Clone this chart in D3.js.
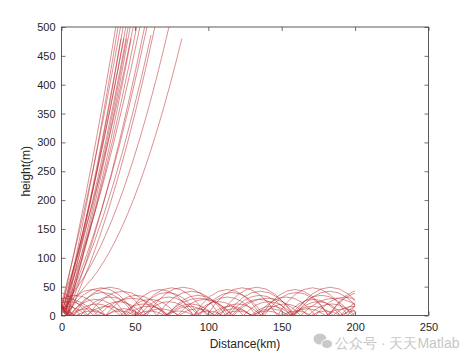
<!DOCTYPE html>
<html>
<head>
<meta charset="utf-8">
<script src="https://cdn.jsdelivr.net/npm/d3@7"></script>
<style>
  html, body { margin: 0; padding: 0; background: #fff; }
  svg { display: block; }
  text { font-family: "Liberation Sans", Arial, Helvetica, sans-serif; }
</style>
</head>
<body>
<svg id="chart" width="474" height="355"></svg>
<script>
// ---------------- data ----------------
const xTickValues = [0, 50, 100, 150, 200, 250];
const yTickValues = [0, 50, 100, 150, 200, 250, 300, 350, 400, 450, 500];
const xLabel = "Distance(km)";
const yLabel = "height(m)";

const sourceH = 15;        // antenna height (m)
const ductTop = 50;        // duct top height (m)
const curvature = 0.059;   // ray curvature above the duct (m/km^2)
const traceEnd = 200;      // traced range of ducted rays (km)

// escaping rays: start point, point where the ray leaves the duct (50 m), end point
const rayStartX = [1.0, 2.0, 0.5, 3.0, 1.5, 2.5, 4.0, 1.0, 3.0, 2.0, 4.5, 3.5, 5.0, 2.0, 3.0, 2.0, 4.0, 5.0, 3.0, 4.0];
const rayStartH = [20, 5, 25, 0, 15, 8, 0, 22, 10, 18, 2, 12, 0, 14, 5, 20, 3, 8, 10, 0];
const rayExitX  = [3.5, 5.5, 3.0, 7.0, 5.0, 6.5, 9.0, 4.0, 8.0, 6.0, 11.0, 9.0, 13.0, 11.0, 6.0, 5.0, 8.0, 9.0, 10.0, 16.0];
const rayEndX   = [37.0, 38.5, 40.2, 42.0, 43.8, 45.4, 46.8, 48.8, 51.2, 53.4, 56.6, 58.2, 63.6, 73.2, 40.5, 42.5, 44.5, 47.5, 61.0, 82.0];
const rayEndH   = [500, 500, 500, 500, 500, 500, 500, 500, 500, 500, 500, 500, 500, 500, 480, 480, 480, 480, 486, 480];

// trapped (ducted) rays: apex height, hop length, first ground reflection
const ductApex  = [49, 48, 45, 40, 35, 32, 28, 24, 20, 16, 12, 30, 42, 8];
const ductHop   = [50, 48, 46, 44, 42, 40, 37, 34, 32, 28, 25, 46, 47, 20];
const ductPhase = [8, 3, 44, 6, 30, 13, 5, 22, 8, 17, 5, 25, 18, 10];

// ---------------- layout ----------------
const W = 474, H = 355;
const m = { left: 61.5, top: 27, right: 474 - 428.5, bottom: 355 - 315.5 };
const pw = W - m.left - m.right, ph = H - m.top - m.bottom;

const svg = d3.select("#chart");
const x = d3.scaleLinear().domain([0, 250]).range([m.left, m.left + pw]);
const y = d3.scaleLinear().domain([0, 500]).range([m.top + ph, m.top]);

const defs = svg.append("defs");
defs.append("clipPath").attr("id", "plotClip")
  .append("rect").attr("x", x(0)).attr("y", y(500)).attr("width", x(250) - x(0)).attr("height", y(0) - y(500));
defs.append("clipPath").attr("id", "ductClip")
  .append("rect").attr("x", x(0)).attr("y", y(500)).attr("width", x(traceEnd) - x(0)).attr("height", y(0) - y(500));

const lineColor = "#b8262c";
const lineWidth = 0.6;

// ducted rays
const gDuct = svg.append("g").attr("clip-path", "url(#ductClip)");
ductApex.forEach((apex, i) => {
  const L = ductHop[i];
  const p = d3.path();
  let g = ductPhase[i] - L;
  while (g < traceEnd) {
    p.moveTo(x(g), y(0));
    p.quadraticCurveTo(x(g + L / 2), y(2 * apex), x(g + L), y(0));
    g += L;
  }
  gDuct.append("path").attr("d", p.toString())
    .attr("fill", "none").attr("stroke", lineColor)
    .attr("stroke-width", lineWidth).attr("stroke-opacity", 0.85);
});

// escaping rays
const gRay = svg.append("g").attr("clip-path", "url(#plotClip)");
rayStartX.forEach((x0, i) => {
  const h0 = rayStartH[i], xd = rayExitX[i], x1 = rayEndX[i], h1 = rayEndH[i];
  const span = x1 - xd;
  const s = (h1 - ductTop) / span - curvature * span;   // slope at duct exit
  const p = d3.path();
  p.moveTo(x(0), y(sourceH));
  p.lineTo(x(x0), y(h0));
  p.quadraticCurveTo(x((x0 + xd) / 2), y(ductTop - s * (xd - x0) / 2), x(xd), y(ductTop));
  p.quadraticCurveTo(x((xd + x1) / 2), y(ductTop + s * span / 2), x(x1), y(h1));
  gRay.append("path").attr("d", p.toString())
    .attr("fill", "none").attr("stroke", lineColor)
    .attr("stroke-width", lineWidth).attr("stroke-opacity", 0.85);
});

// ---------------- axes ----------------
const axisColor = "#4a4a4a";
const tickLen = 4;
function styleAxis(g, showLabels) {
  g.select(".domain").remove();
  g.selectAll(".tick line").attr("stroke", axisColor).attr("stroke-width", 0.8);
  g.selectAll(".tick text").attr("fill", "#262626").attr("font-size", 11)
    .attr("font-family", "'Liberation Sans', Arial, sans-serif");
  if (!showLabels) g.selectAll(".tick text").remove();
}
const fmt = d3.format("d");
svg.append("g").attr("transform", `translate(0,${y(0)})`)
  .call(d3.axisBottom(x).tickValues(xTickValues).tickFormat(fmt).tickSizeInner(-tickLen).tickSizeOuter(0).tickPadding(8))
  .call(g => styleAxis(g, true));
svg.append("g").attr("transform", `translate(0,${y(500)})`)
  .call(d3.axisTop(x).tickValues(xTickValues).tickSizeInner(-tickLen).tickSizeOuter(0))
  .call(g => styleAxis(g, false));
svg.append("g").attr("transform", `translate(${x(0)},0)`)
  .call(d3.axisLeft(y).tickValues(yTickValues).tickFormat(fmt).tickSizeInner(-tickLen).tickSizeOuter(0).tickPadding(6))
  .call(g => styleAxis(g, true));
svg.append("g").attr("transform", `translate(${x(250)},0)`)
  .call(d3.axisRight(y).tickValues(yTickValues).tickSizeInner(-tickLen).tickSizeOuter(0))
  .call(g => styleAxis(g, false));

// box
svg.append("rect").attr("x", x(0)).attr("y", y(500))
  .attr("width", x(250) - x(0)).attr("height", y(0) - y(500))
  .attr("fill", "none").attr("stroke", axisColor).attr("stroke-width", 0.9);

// axis labels
svg.append("text").attr("x", (x(0) + x(250)) / 2).attr("y", 348)
  .attr("text-anchor", "middle").attr("font-size", 12).attr("fill", "#262626").text(xLabel);
svg.append("text").attr("transform", `translate(30,${(y(0) + y(500)) / 2}) rotate(-90)`)
  .attr("text-anchor", "middle").attr("font-size", 12).attr("fill", "#262626").text(yLabel);

// watermark
const wm = svg.append("g").attr("opacity", 0.75);
wm.append("ellipse").attr("cx", 320).attr("cy", 339).attr("rx", 6.5).attr("ry", 5.5).attr("fill", "#b8b8b8");
wm.append("ellipse").attr("cx", 327).attr("cy", 344).attr("rx", 5.5).attr("ry", 4.5).attr("fill", "#b8b8b8").attr("stroke", "#fff").attr("stroke-width", 1);
wm.append("text").attr("x", 335).attr("y", 348).attr("font-size", 14).attr("fill", "#b4b4b4")
  .attr("font-family", "'Noto Sans CJK SC', 'Liberation Sans', sans-serif").text("公众号 · 天天Matlab");
</script>
</body>
</html>
